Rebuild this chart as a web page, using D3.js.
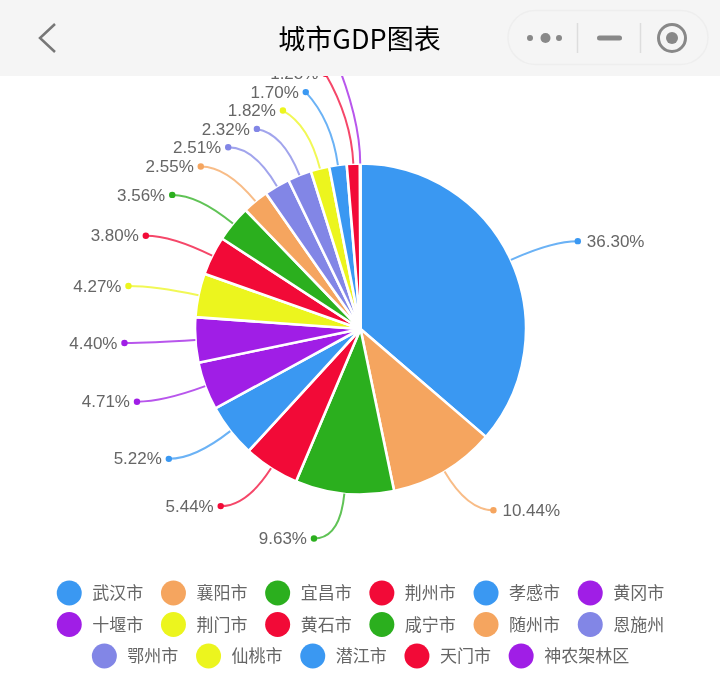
<!DOCTYPE html>
<html lang="zh">
<head>
<meta charset="UTF-8">
<title>城市GDP图表</title>
<script src="https://d3js.org/d3.v7.min.js"></script>
<style>
  html, body { margin: 0; padding: 0; background: #fff; }
  svg { display: block; font-family: "Liberation Sans", Arial, sans-serif; filter: blur(0.35px); }
  .cjk { font-family: "Noto Sans CJK SC", sans-serif; }
</style>
</head>
<body>
<div id="chart"></div>
<script>
const cities = ["武汉市", "襄阳市", "宜昌市", "荆州市", "孝感市", "黄冈市", "十堰市", "荆门市", "黄石市",
  "咸宁市", "随州市", "恩施州", "鄂州市", "仙桃市", "潜江市", "天门市", "神农架林区"];
const shares = [36.30, 10.44, 9.63, 5.44, 5.22, 4.71, 4.40, 4.27, 3.80, 3.56, 2.55, 2.51, 2.32, 1.82, 1.70, 1.28, 0.05];
const colors = ["#3a98f2", "#f5a55f", "#2baf1e", "#f20a37", "#3a98f2", "#a01ee6", "#a01ee6", "#ecf51e", "#f20a37",
  "#2baf1e", "#f5a55f", "#8286e6", "#8286e6", "#ecf51e", "#3a98f2", "#f20a37", "#a01ee6"];
const legendRows = [6, 6, 5]; // items per row

const width = 720, height = 674;
const cx = 360.5, cy = 329, radius = 165.5;
const lineLen = 45, elbow = 26, labelGap = 18.4;
const navHeight = 76;

const svg = d3.select("#chart").append("svg").attr("width", width).attr("height", height);

// pie
const arcs = d3.pie().sort(null).value(d => d)(shares);
const arc = d3.arc().innerRadius(0).outerRadius(radius);
const g = svg.append("g").attr("transform", `translate(${cx},${cy})`);

g.selectAll("path.slice").data(arcs).enter().append("path")
  .attr("class", "slice")
  .attr("d", arc)
  .attr("fill", (d, i) => colors[i])
  .attr("stroke", "#fff")
  .attr("stroke-width", 2.6)
  .attr("stroke-linejoin", "round");

// leader lines, labels in the upper left get pushed up when they would overlap
let lastY = null;
arcs.forEach((d, i) => {
  const a = (d.startAngle + d.endAngle) / 2;
  const sx = Math.sin(a), cs = -Math.cos(a);
  const side = sx >= 0 ? 1 : -1;
  const ctrlX = sx * (radius + lineLen), ctrlY = cs * (radius + lineLen);
  const endX = ctrlX + side * elbow;
  let endY = ctrlY;
  if (side < 0 && cs < 0 && lastY !== null && endY > lastY - labelGap) endY = lastY - labelGap;
  if (side < 0 && cs < 0) lastY = endY;

  const p = d3.path();
  p.moveTo(sx * radius, cs * radius);
  p.quadraticCurveTo(ctrlX, ctrlY, endX, endY);
  g.append("path").attr("d", p.toString()).attr("fill", "none")
    .attr("stroke", colors[i]).attr("stroke-width", 2).attr("stroke-opacity", 0.75);
  g.append("circle").attr("cx", endX).attr("cy", endY).attr("r", 3.2).attr("fill", colors[i]);
  // the last label ends up completely behind the title bar, same as the original
  if (cy + endY + 8 < navHeight) return;
  g.append("text").attr("x", endX + (side > 0 ? 9 : -7)).attr("y", endY)
    .attr("dy", "0.33em")
    .attr("text-anchor", side > 0 ? "start" : "end")
    .attr("font-size", 17).attr("fill", "#666")
    .text(shares[i].toFixed(2) + "%");
});

// legend
const legendY = d3.scaleOrdinal().domain([0, 1, 2]).range([593, 624.5, 656]);
const legend = svg.append("g").attr("class", "cjk");
let idx = 0;
legendRows.forEach((n, r) => {
  const names = cities.slice(idx, idx + n);
  const itemW = s => 25 + 10.5 + s.length * 17;
  const total = d3.sum(names, itemW) + (n - 1) * 17.7;
  let x = cx - total / 2;
  names.forEach((name, j) => {
    legend.append("circle").attr("cx", x + 12.5).attr("cy", legendY(r)).attr("r", 12.5).attr("fill", colors[idx + j]);
    legend.append("text").attr("x", x + 35.5).attr("y", legendY(r)).attr("dy", "0.36em")
      .attr("font-size", 17).attr("fill", "#666").text(name);
    x += itemW(name) + 17.7;
  });
  idx += n;
});

// mini program title bar, sits on top of the chart
const nav = svg.append("g");
nav.append("rect").attr("width", width).attr("height", navHeight).attr("fill", "#f5f5f5");
nav.append("path").attr("d", "M55,24 L40,38 L55,52").attr("fill", "none").attr("stroke", "#777").attr("stroke-width", 2.5);
nav.append("text").attr("class", "cjk").attr("x", 359.5).attr("y", 39).attr("dy", "0.36em")
  .attr("text-anchor", "middle").attr("font-size", 27).attr("fill", "#000").text("城市GDP图表");
nav.append("rect").attr("x", 508).attr("y", 10.5).attr("width", 200).attr("height", 54).attr("rx", 27)
  .attr("fill", "none").attr("stroke", "#eee").attr("stroke-width", 1.5);
[[530, 3], [545.5, 5], [559, 3]].forEach(c => nav.append("circle").attr("cx", c[0]).attr("cy", 38).attr("r", c[1]).attr("fill", "#888"));
[577.5, 640.5].forEach(x => nav.append("line").attr("x1", x).attr("x2", x).attr("y1", 23).attr("y2", 53).attr("stroke", "#ddd").attr("stroke-width", 1.5));
nav.append("rect").attr("x", 597).attr("y", 35.5).attr("width", 25).attr("height", 5).attr("rx", 2.5).attr("fill", "#888");
nav.append("circle").attr("cx", 672).attr("cy", 38).attr("r", 13.5).attr("fill", "none").attr("stroke", "#888").attr("stroke-width", 3);
nav.append("circle").attr("cx", 672).attr("cy", 38).attr("r", 6).attr("fill", "#888");
</script>
</body>
</html>
